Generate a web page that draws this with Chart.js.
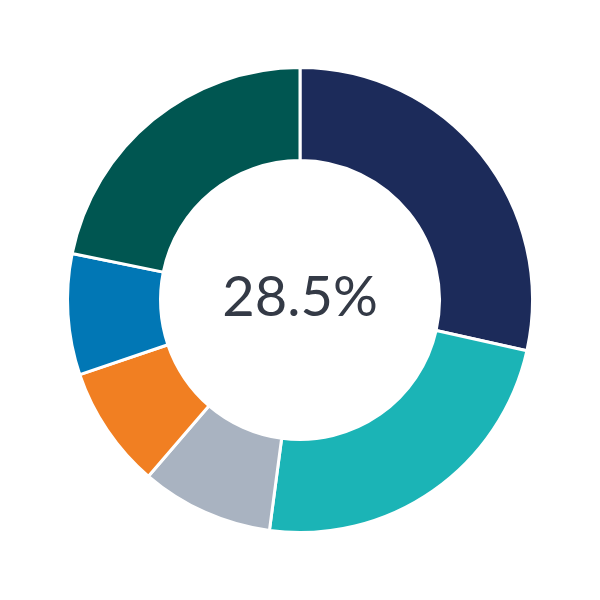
<!DOCTYPE html>
<html>
<head>
<meta charset="utf-8">
<script src="https://cdn.jsdelivr.net/npm/chart.js@4"></script>
<style>
html,body{margin:0;padding:0;background:#fff;}
#wrap{position:relative;width:600px;height:600px;}
#center{position:absolute;left:0;top:-6px;width:600px;height:600px;display:flex;align-items:center;justify-content:center;font-family:Lato,"Open Sans",sans-serif;font-size:56px;color:#343a46;pointer-events:none;}
</style>
</head>
<body>
<div id="wrap">
<canvas id="c" width="600" height="600"></canvas>
<div id="center"><span id="label"></span></div>
</div>
<script>
const categories = ["A","B","C","D","E","F"];
const values = [28.5, 23.6, 9.2, 8.5, 8.4, 21.8];
const colors = ["#1c2b5a","#1bb4b6","#a9b3c1","#f17f22","#0177b5","#005651"];
const centerText = "28.5%";
document.getElementById('label').textContent = centerText;
new Chart(document.getElementById('c'), {
  type: 'doughnut',
  data: { labels: categories, datasets: [{ data: values, backgroundColor: colors, borderColor: '#ffffff', borderWidth: 3 }] },
  options: {
    responsive: false,
    animation: false,
    cutout: '60%',
    layout: { padding: 66 },
    plugins: { legend: { display: false }, tooltip: { enabled: false } }
  }
});
</script>
</body>
</html>
